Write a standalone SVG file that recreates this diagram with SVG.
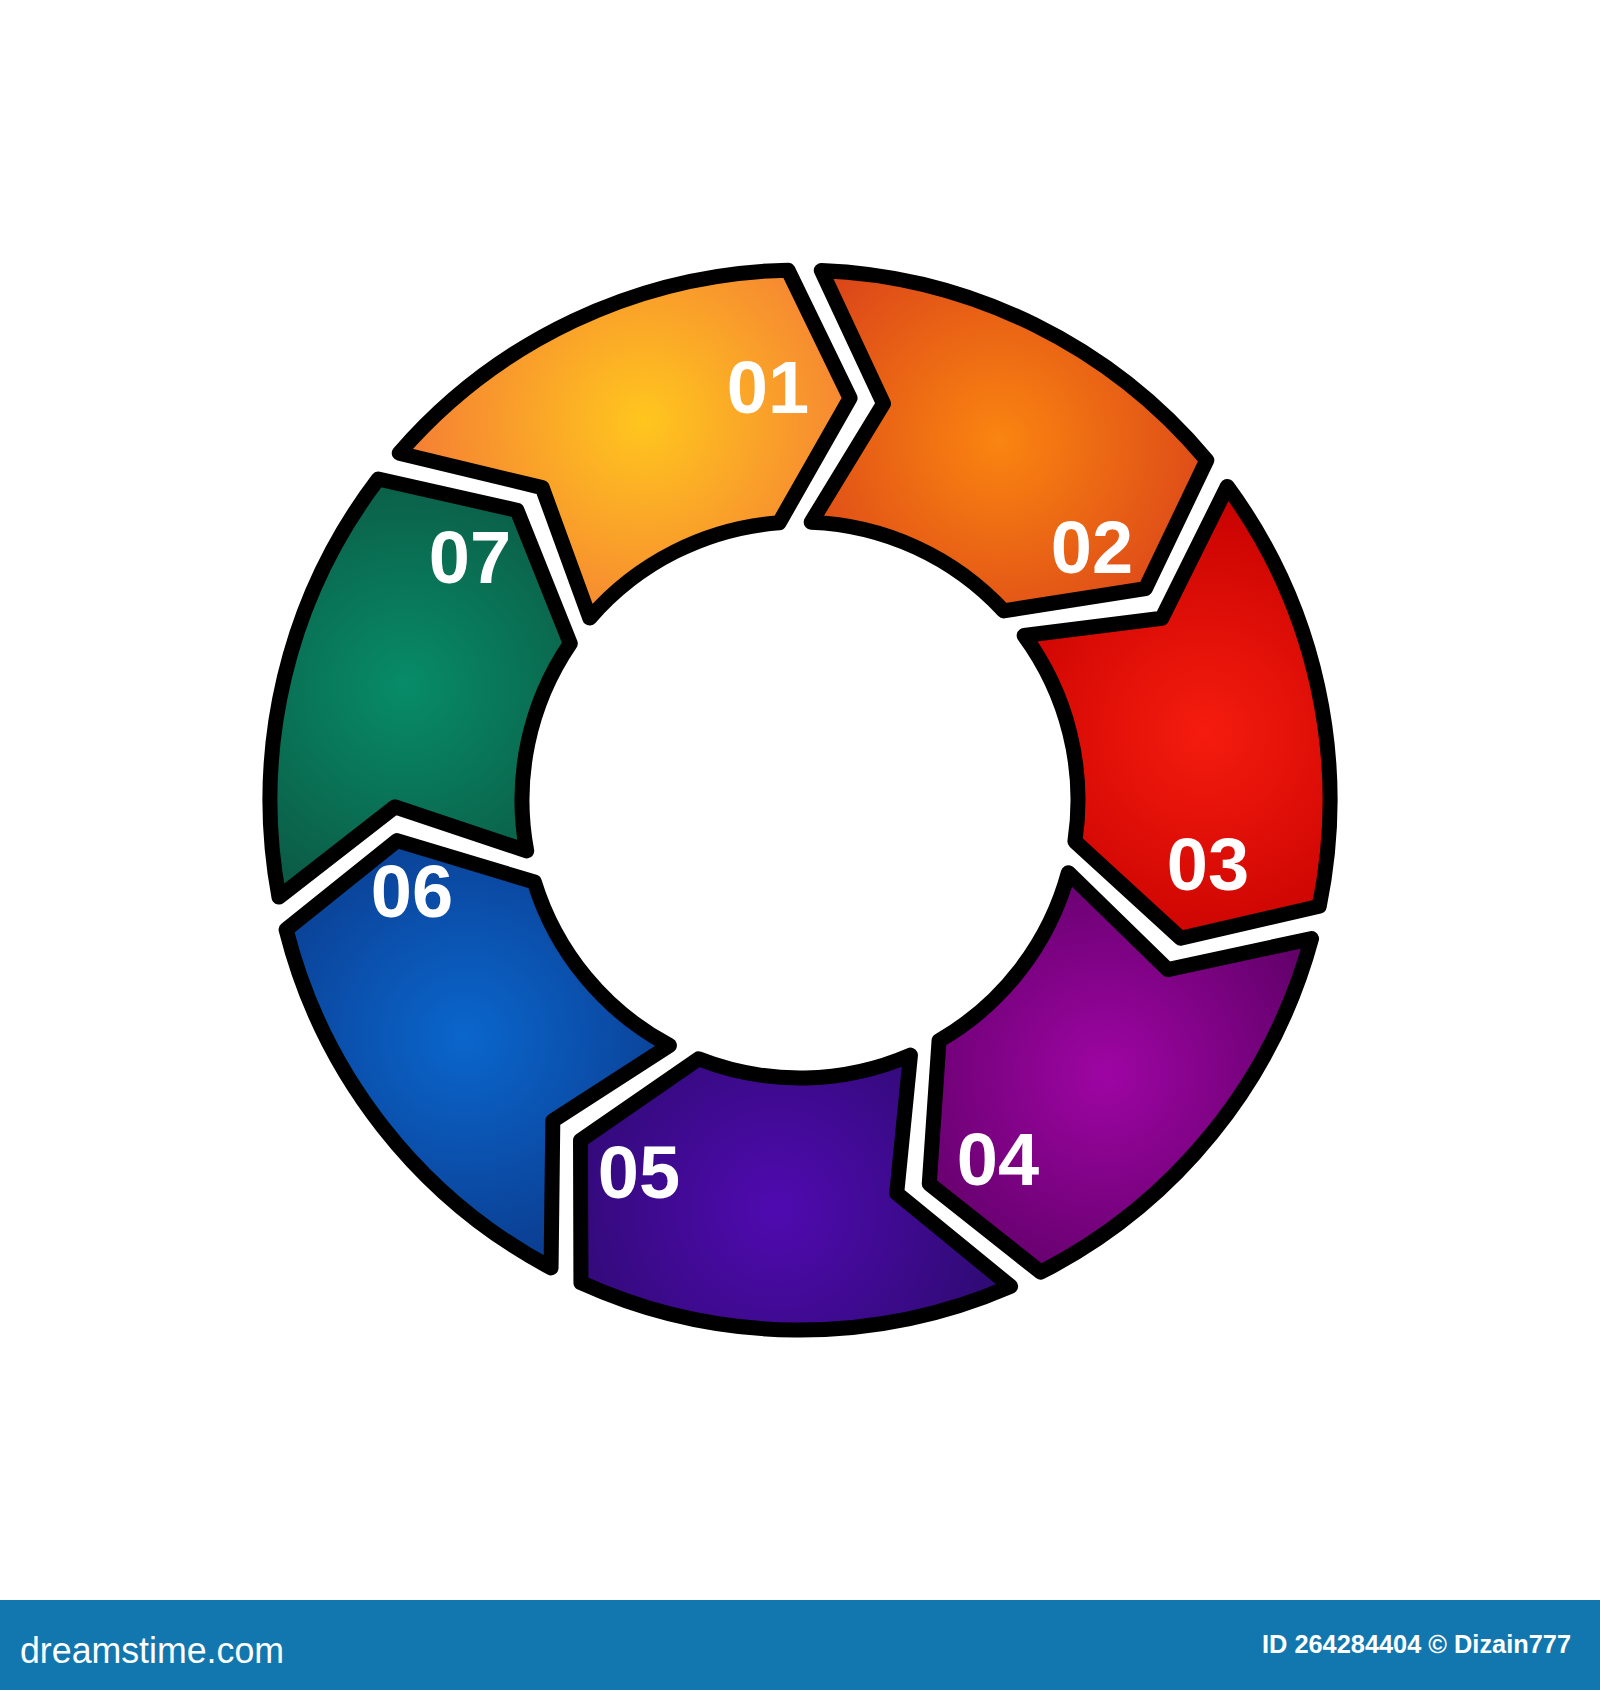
<svg xmlns="http://www.w3.org/2000/svg" width="1600" height="1690" viewBox="0 0 1600 1690">
<defs>
<style>
.seg{stroke:#000;stroke-width:15;stroke-linejoin:round}
.num{font-family:"Liberation Sans",Arial,sans-serif;font-weight:bold;font-size:74px;fill:#fff;text-anchor:middle}
.foot{font-family:"Liberation Sans",Arial,sans-serif;fill:#fff}
</style>
<radialGradient id="g1" gradientUnits="userSpaceOnUse" cx="999" cy="441" r="250"><stop offset="0" stop-color="#FFC61E"/><stop offset="1" stop-color="#F47A36"/></radialGradient>
<radialGradient id="g2" gradientUnits="userSpaceOnUse" cx="999" cy="441" r="250"><stop offset="0" stop-color="#FA8510"/><stop offset="1" stop-color="#D8401A"/></radialGradient>
<radialGradient id="g3" gradientUnits="userSpaceOnUse" cx="999" cy="441" r="250"><stop offset="0" stop-color="#F51C0E"/><stop offset="1" stop-color="#C50000"/></radialGradient>
<radialGradient id="g4" gradientUnits="userSpaceOnUse" cx="999" cy="441" r="250"><stop offset="0" stop-color="#9E05A3"/><stop offset="1" stop-color="#5C0064"/></radialGradient>
<radialGradient id="g5" gradientUnits="userSpaceOnUse" cx="999" cy="441" r="250"><stop offset="0" stop-color="#500AB0"/><stop offset="1" stop-color="#2C0A6E"/></radialGradient>
<radialGradient id="g6" gradientUnits="userSpaceOnUse" cx="999" cy="441" r="250"><stop offset="0" stop-color="#0A66CC"/><stop offset="1" stop-color="#0B3A8C"/></radialGradient>
<radialGradient id="g7" gradientUnits="userSpaceOnUse" cx="999" cy="441" r="250"><stop offset="0" stop-color="#078C68"/><stop offset="1" stop-color="#0C5642"/></radialGradient>
</defs>
<rect width="1600" height="1690" fill="#fff"/>
<g id="ring">
<g id="node-01">
<path class="seg" fill="url(#g1)" transform="rotate(-51.4286 800 800)" d="M821.27,270.43 A530,530 0 0 1 1206.78,460.24 L1145.43,588.57 L1003.75,610.87 A278,278 0 0 0 811.16,522.22 L883.51,403.70 Z"/>
<text class="num" x="768" y="413">01</text>
</g>
<g id="node-02">
<path class="seg" fill="url(#g2)" d="M821.27,270.43 A530,530 0 0 1 1206.78,460.24 L1145.43,588.57 L1003.75,610.87 A278,278 0 0 0 811.16,522.22 L883.51,403.70 Z"/>
<text class="num" x="1092" y="573">02</text>
</g>
<g id="node-03">
<path class="seg" fill="url(#g3)" transform="rotate(51.4286 800 800)" d="M821.27,270.43 A530,530 0 0 1 1206.78,460.24 L1145.43,588.57 L1003.75,610.87 A278,278 0 0 0 811.16,522.22 L883.51,403.70 Z"/>
<text class="num" x="1208" y="890">03</text>
</g>
<g id="node-04">
<path class="seg" fill="url(#g4)" transform="rotate(102.8571 800 800)" d="M821.27,270.43 A530,530 0 0 1 1206.78,460.24 L1145.43,588.57 L1003.75,610.87 A278,278 0 0 0 811.16,522.22 L883.51,403.70 Z"/>
<text class="num" x="998" y="1185">04</text>
</g>
<g id="node-05">
<path class="seg" fill="url(#g5)" transform="rotate(154.2857 800 800)" d="M821.27,270.43 A530,530 0 0 1 1206.78,460.24 L1145.43,588.57 L1003.75,610.87 A278,278 0 0 0 811.16,522.22 L883.51,403.70 Z"/>
<text class="num" x="639" y="1198">05</text>
</g>
<g id="node-06">
<path class="seg" fill="url(#g6)" transform="rotate(205.7143 800 800)" d="M821.27,270.43 A530,530 0 0 1 1206.78,460.24 L1145.43,588.57 L1003.75,610.87 A278,278 0 0 0 811.16,522.22 L883.51,403.70 Z"/>
<text class="num" x="412" y="917">06</text>
</g>
<g id="node-07">
<path class="seg" fill="url(#g7)" transform="rotate(257.1429 800 800)" d="M821.27,270.43 A530,530 0 0 1 1206.78,460.24 L1145.43,588.57 L1003.75,610.87 A278,278 0 0 0 811.16,522.22 L883.51,403.70 Z"/>
<text class="num" x="470" y="583">07</text>
</g>
</g>
<g id="footer">
<rect x="0" y="1600" width="1600" height="90" fill="#1177AE"/>
<text class="foot" x="20" y="1663" font-size="37" textLength="264" lengthAdjust="spacingAndGlyphs">dreamstime.com</text>
<text class="foot" x="1571" y="1653" font-size="25" font-weight="bold" text-anchor="end" textLength="309" lengthAdjust="spacingAndGlyphs">ID 264284404 © Dizain777</text>
</g>
</svg>
